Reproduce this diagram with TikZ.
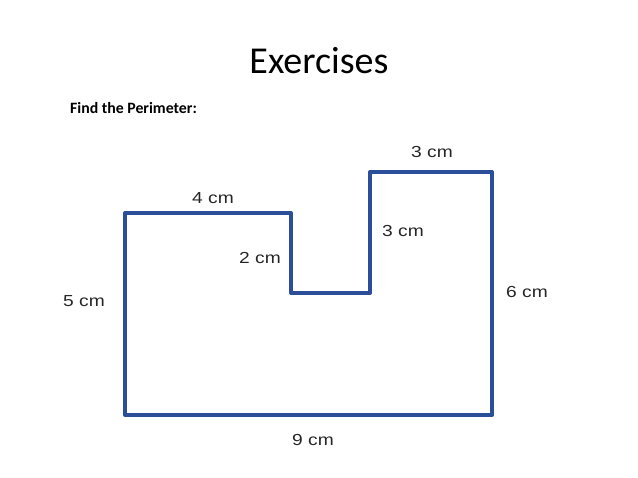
\documentclass[tikz,border=0pt]{standalone}
\usepackage{fontspec}
\setmainfont{Carlito}
\newfontfamily\labelfont{Liberation Sans}
\definecolor{shapeblue}{HTML}{2B4E9B}
\newcommand{\widelabel}[1]{\scalebox{1.2}[1]{#1}}
\begin{document}
\begin{tikzpicture}[x=1pt,y=-1pt,
  dimlabel/.style={font=\labelfont\fontsize{16}{18}\selectfont, text=black!85, inner sep=0pt, anchor=center},
  outline/.style={draw=shapeblue, line width=4pt, line join=round}]
\useasboundingbox (0,0) rectangle (638,478);
\node[font=\fontsize{38}{44}\selectfont, anchor=center] (title) at (319,61) {Exercises};
\node[font=\bfseries\fontsize{15.8}{18}\selectfont, anchor=west, inner sep=0pt] (task) at (70,108) {Find the Perimeter:};
\coordinate (a) at (125,213);
\coordinate (b) at (291,213);
\coordinate (c) at (291,293);
\coordinate (d) at (370,293);
\coordinate (e) at (370,172);
\coordinate (f) at (492,172);
\coordinate (g) at (492,415);
\coordinate (h) at (125,415);
\draw[outline] (a) -- (b) -- (c) -- (d) -- (e) -- (f) -- (g) -- (h) -- cycle;
\node[dimlabel] (l4) at (213,198) {\widelabel{4 cm}};
\node[dimlabel] (l2) at (260,258) {\widelabel{2 cm}};
\node[dimlabel] (l3t) at (432,152) {\widelabel{3 cm}};
\node[dimlabel] (l3m) at (403,231) {\widelabel{3 cm}};
\node[dimlabel] (l6) at (527,292) {\widelabel{6 cm}};
\node[dimlabel] (l5) at (84,301) {\widelabel{5 cm}};
\node[dimlabel] (l9) at (313,440) {\widelabel{9 cm}};
\end{tikzpicture}
\end{document}
